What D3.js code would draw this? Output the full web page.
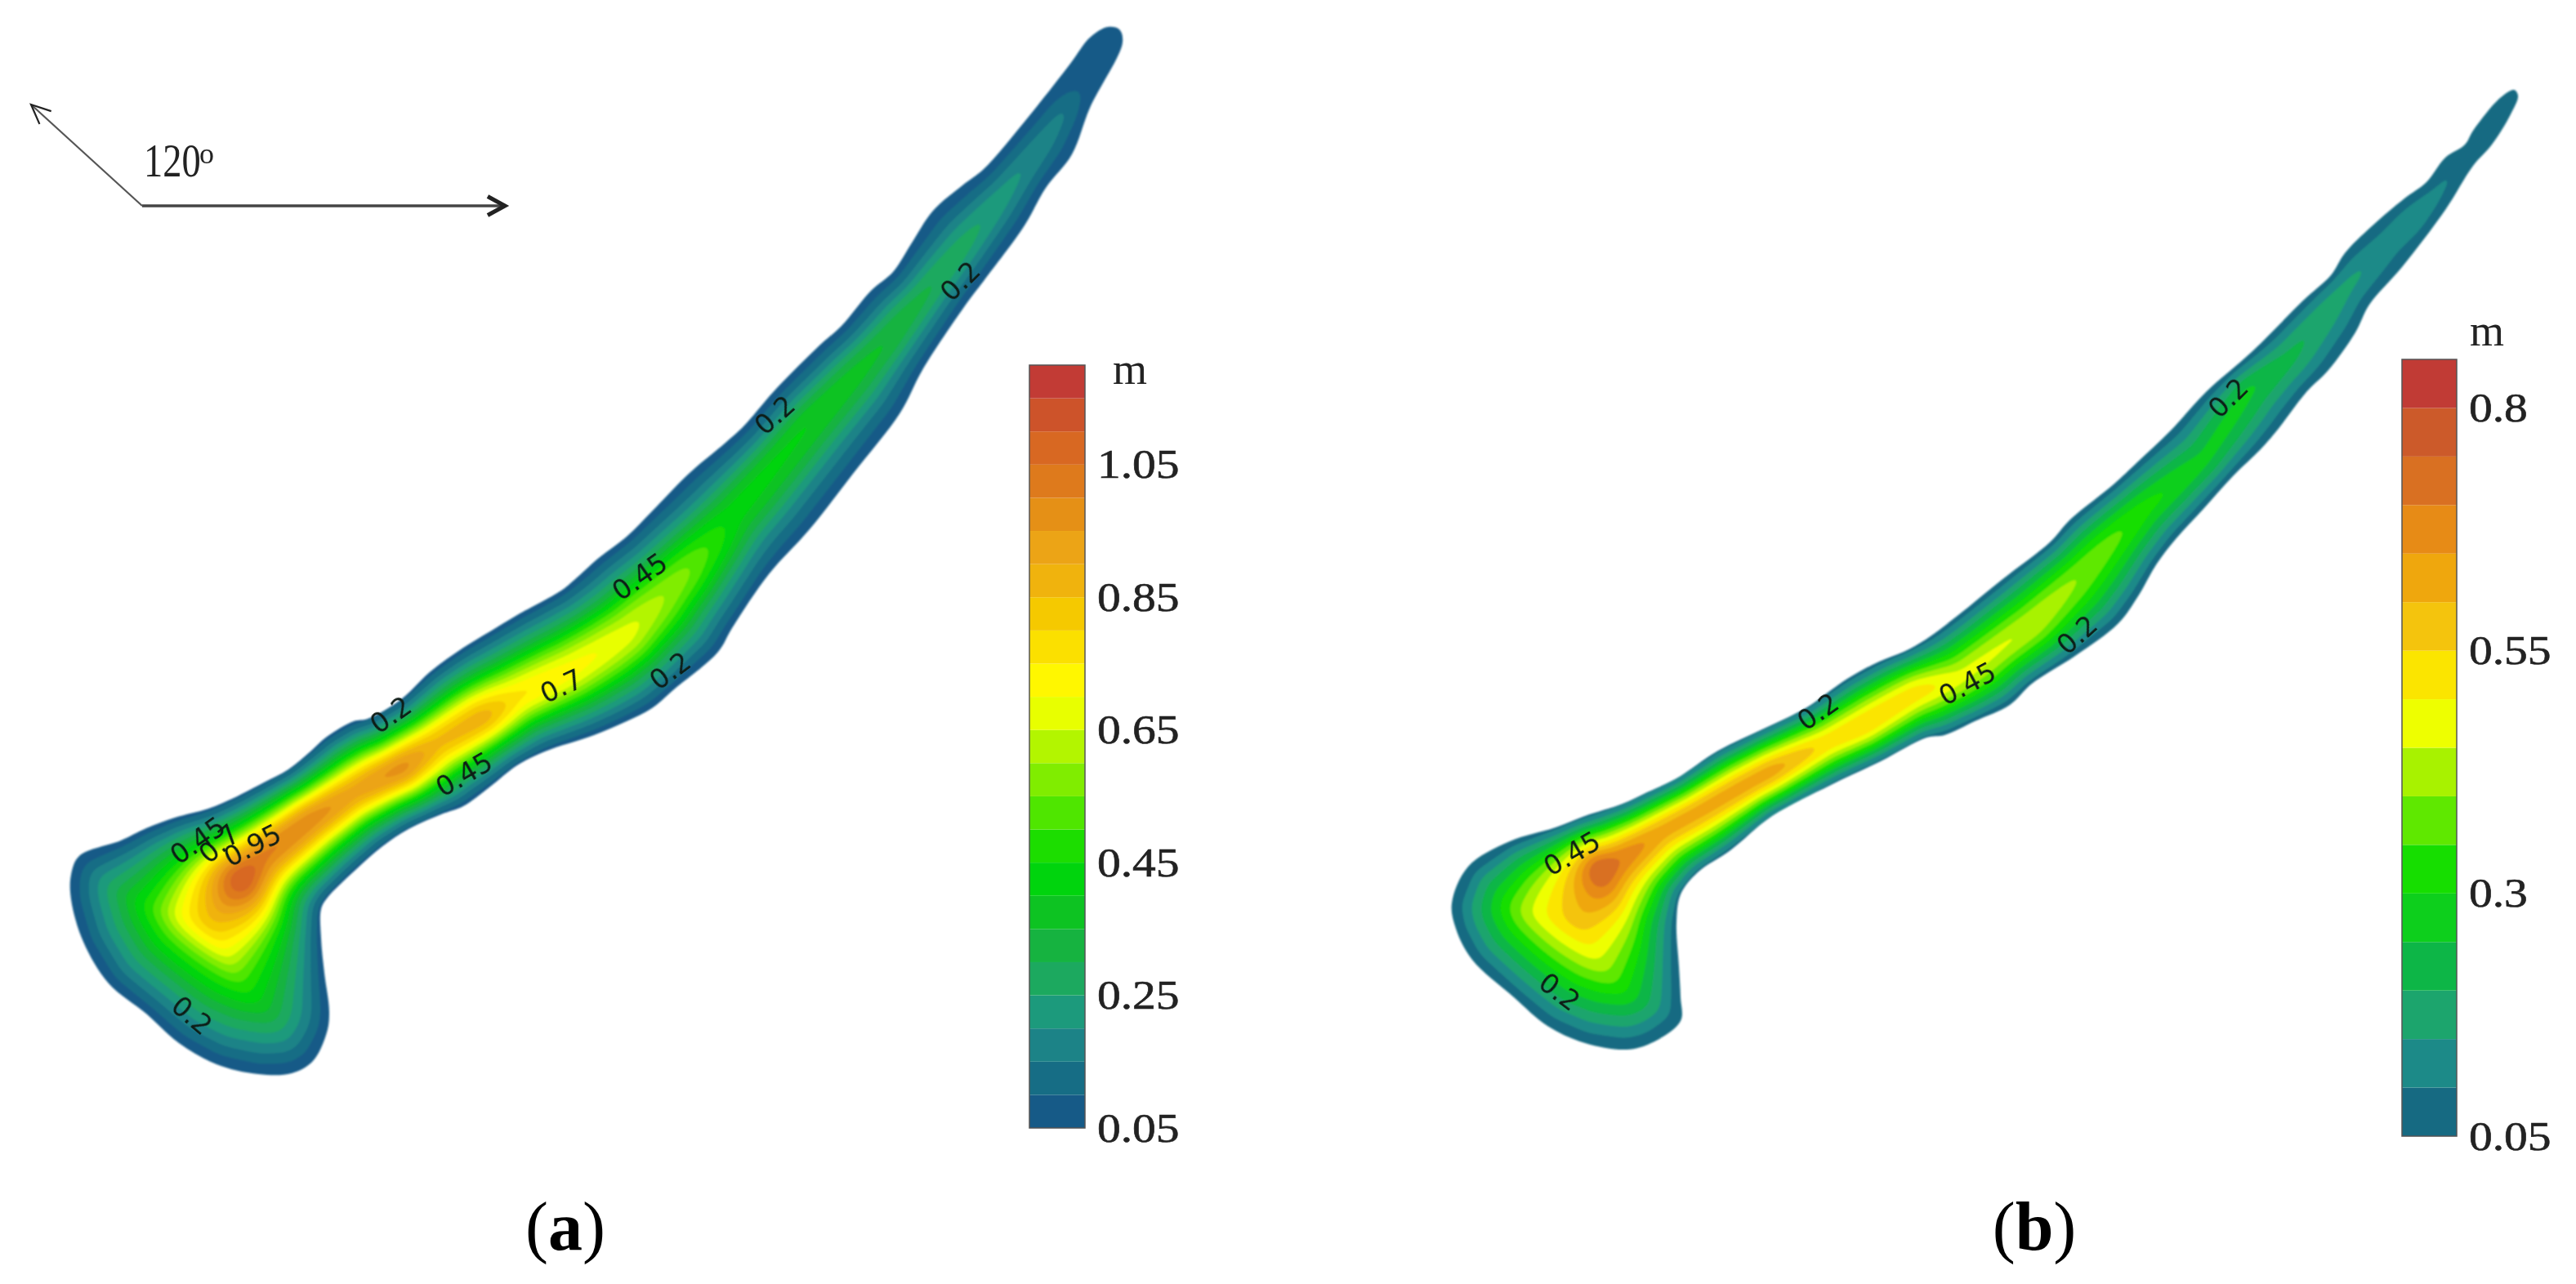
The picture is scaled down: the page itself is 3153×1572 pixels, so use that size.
<!DOCTYPE html>
<html>
<head>
<meta charset="utf-8">
<script src="https://cdn.jsdelivr.net/npm/d3@7"></script>
<style>
html,body{margin:0;padding:0;background:#fff;}
svg{display:block;}
</style>
</head>
<body>
<svg id="chart"></svg>
<script>
// map coordinates are the traced position in the figure, depth in metres

var levelsA = [0.05,0.1,0.15,0.2,0.25,0.3,0.35,0.4,0.45,0.5,0.55,0.6,0.65,0.7,0.75,0.8,0.85,0.9,0.95,1.0,1.05,1.1,1.15,1.2];
var coloursA = ["#155a87","#196d85","#1d8387","#1f9a7c","#1aa95e","#12b340","#0bc324","#04d40d","#1fdd00","#50e600","#80ed00","#b3f500","#e8ff00","#fff700","#fbe003","#f5c905","#f0b30c","#eca412","#e59018","#de7a1e","#d86723","#cd5229","#c23b35"];
var ticksA = [0.05,0.25,0.45,0.65,0.85,1.05];

var levelsB = [0.05,0.1,0.15,0.2,0.25,0.3,0.35,0.4,0.45,0.5,0.55,0.6,0.65,0.7,0.75,0.8,0.85];
var coloursB = ["#186a82","#1e8a88","#1ca56d","#10b646","#08cf1b","#12de00","#5ee800","#a8f200","#eeff00","#fbe500","#f4c40a","#efa70e","#e78b14","#d96f20","#cc5a29","#c13b36"];
var ticksB = [0.05,0.3,0.55,0.8];

// bank line of the flow, traced clockwise from the left corner of the fan
var bankA = [[97,1048],[148,1029],[179,1014],[214,1001],[255,990],[286,977],[300,970],[323,958],[353,942],[380,920],[400,902],[433,883],[450,880],[490,857],[527,822],[567,793],[600,773],[633,753],[687,723],[703,710],[733,683],[767,657],[798,626],[843,580],[888,542],[910,522],[950,476],[1004,422],[1030,399],[1066,356],[1093,333],[1115,299],[1142,258],[1178,227],[1204,207],[1254,149],[1310,78],[1334,46],[1356,33],[1370,36],[1374,52],[1334,132],[1312,189],[1280,230],[1254,276],[1204,344],[1182,373],[1129,453],[1102,505],[1044,580],[990,649],[941,703],[896,769],[879,798],[825,844],[798,867],[767,883],[727,900],[667,920],[633,937],[600,963],[567,987],[540,997],[500,1015],[467,1037],[433,1067],[400,1100],[393,1113],[393,1149],[397,1191],[403,1239],[400,1264],[383,1299],[357,1314],[316,1315],[265,1303],[219,1277],[179,1241],[133,1204],[102,1153],[87,1101],[87,1071]];

// deepest line along the flow: x, y, depth
var spineA = [[296,1076,1.15],[320,1050,1.05],[380,1003,1.03],[433,970,0.96],[493,940,1.02],[533,910,0.9],[593,878,0.92],[633,853,0.79],[700,820,0.75],[767,777,0.7],[807,735,0.63],[840,700,0.58],[870,666,0.51],[896,631,0.44],[990,517,0.42],[1084,419,0.37],[1178,304,0.29],[1249,212,0.22],[1303,138,0.17],[1325,109,0.1],[1343,57,0.06]];

var bankB = [[1797,1061],[1848,1030],[1904,1013],[1940,999],[1986,984],[2016,970],[2052,953],[2103,919],[2159,892],[2210,867],[2261,831],[2300,810],[2330,798],[2357,783],[2397,753],[2450,710],[2510,663],[2533,637],[2587,593],[2617,565],[2657,527],[2700,480],[2757,430],[2820,367],[2853,337],[2870,310],[2903,277],[2943,243],[2970,223],[2993,193],[3017,177],[3027,160],[3060,120],[3077,110],[3082,117],[3073,140],[3050,177],[3027,203],[2993,257],[2940,327],[2900,373],[2883,407],[2850,453],[2823,480],[2787,527],[2767,550],[2733,583],[2697,623],[2663,660],[2640,690],[2617,730],[2593,763],[2540,803],[2487,837],[2460,863],[2417,883],[2380,900],[2358,903],[2302,932],[2241,961],[2169,999],[2118,1041],[2078,1068],[2057,1095],[2052,1130],[2055,1183],[2057,1221],[2057,1250],[2021,1277],[1991,1285],[1940,1277],[1894,1256],[1853,1221],[1802,1175],[1782,1137],[1777,1106]];

var spineB = [[1960,1064,0.8],[1981,1053,0.73],[2032,1018,0.66],[2169,944,0.67],[2236,909,0.57],[2282,888,0.59],[2347,847,0.56],[2400,830,0.49],[2487,765,0.47],[2530,720,0.43],[2590,657,0.38],[2623,623,0.34],[2700,563,0.28],[2750,477,0.28],[2800,440,0.23],[2870,350,0.18],[2923,297,0.14],[2952,270,0.16],[2980,240,0.13],[3007,207,0.11],[3030,190,0.09],[3070,130,0.06]];

// share of the depth reached at a given share of the way from bank to spine
var profileAt = [0,0.25,0.45,0.6,0.8,1];
var profileA = [0,0.22,0.42,0.64,0.88,1];
var profileB = [0,0.28,0.52,0.68,0.88,1];

// isoline labels: text, x, y, angle
var isoLabelsA = [["0.2",235,1243,40],["0.45",242,1029,-35],["0.7",268,1033,-40],["0.95",309,1035,-27],["0.45",568,948,-30],["0.2",478,875,-35],["0.7",687,840,-25],["0.45",783,706,-35],["0.2",820,821,-37],["0.2",948,508,-42],["0.2",1175,344,-45]];
var isoLabelsB = [["0.45",1924,1045,-30],["0.2",1909,1214,37],["0.2",2225,871,-35],["0.45",2408,837,-28],["0.2",2542,777,-42],["0.2",2727,487,-45]];

// wind arrows
var arrowBase = [174,252];
var arrowTips = [[618,252],[38,128]];
var arrowText = "120";

var width = 3153, height = 1572;
var xScale = d3.scaleLinear().domain([0,3153]).range([0,width]);
var yScale = d3.scaleLinear().domain([0,1572]).range([0,height]);

var svg = d3.select("#chart").attr("width",width).attr("height",height);
var defs = svg.append("defs");
defs.append("filter").attr("id","soft").append("feGaussianBlur").attr("stdDeviation",1.1);
defs.append("filter").attr("id","softer").append("feGaussianBlur").attr("stdDeviation",0.7);

var segDist = function(px,py,a,b)
{
    var dx = b[0]-a[0], dy = b[1]-a[1];
    var t = ((px-a[0])*dx+(py-a[1])*dy)/(dx*dx+dy*dy);
    t = Math.max(0,Math.min(1,t));
    var qx = a[0]+t*dx, qy = a[1]+t*dy;
    return {d:Math.hypot(px-qx,py-qy),t:t};
}

// depth on a grid: falls from the spine depth to the shallowest level at the bank
var depthGrid = function(bank,spine,profile,step,edge)
{
    var shape = d3.scaleLinear().domain(profileAt).range(profile);
    var x0 = d3.min(bank,function(d){return d[0];})-step*2;
    var y0 = d3.min(bank,function(d){return d[1];})-step*2;
    var n = Math.ceil((d3.max(bank,function(d){return d[0];})-x0)/step)+2;
    var m = Math.ceil((d3.max(bank,function(d){return d[1];})-y0)/step)+2;
    var values = new Float64Array(n*m).fill(edge);
    for(var j=0;j<m;j++)
    {
        for(var i=0;i<n;i++)
        {
            var px = x0+(i+0.5)*step, py = y0+(j+0.5)*step;
            if(!d3.polygonContains(bank,[px,py])) continue;
            var db = Infinity;
            for(var k=0;k<bank.length;k++)
            {
                var r = segDist(px,py,bank[k],bank[(k+1)%bank.length]);
                if(r.d<db) db = r.d;
            }
            var ds = Infinity, peak = edge;
            for(var s=0;s<spine.length-1;s++)
            {
                var q = segDist(px,py,spine[s],spine[s+1]);
                if(q.d<ds)
                {
                    ds = q.d;
                    peak = spine[s][2]+q.t*(spine[s+1][2]-spine[s][2]);
                }
            }
            values[i+j*n] = edge+(peak-edge)*shape(db/(db+ds));
        }
    }
    d3.blur2({data:values,width:n,height:m},2);
    return {values:values,n:n,m:m,x0:x0,y0:y0,step:step};
}

var drawMap = function(bank,spine,profile,levels,colours,labels)
{
    var g = svg.append("g");
    var map = g.append("g").attr("filter","url(#soft)");

    var colour = d3.scaleThreshold().domain(levels.slice(1)).range(colours);

    var outline = d3.line()
        .x(function(d){return xScale(d[0]);})
        .y(function(d){return yScale(d[1]);})
        .curve(d3.curveCatmullRomClosed);
    map.append("path").attr("d",outline(bank)).attr("fill",colours[0]);

    var grid = depthGrid(bank,spine,profile,3,levels[0]);
    var contours = d3.contours().size([grid.n,grid.m]).smooth(true)
        .thresholds(levels.slice(1,-1))(grid.values);

    var project = d3.geoTransform({point:function(x,y)
    {
        this.stream.point(xScale(grid.x0+x*grid.step),yScale(grid.y0+y*grid.step));
    }});
    var path = d3.geoPath(project);

    map.selectAll("path.band")
        .data(contours)
        .enter()
        .append("path")
        .classed("band",true)
        .attr("d",path)
        .attr("fill",function(d){return colour(d.value);});

    g.selectAll("text")
        .data(labels)
        .enter()
        .append("text")
        .attr("transform",function(d)
        {
            return "translate("+xScale(d[1])+","+yScale(d[2])+") rotate("+d[3]+")";
        })
        .attr("text-anchor","middle")
        .attr("dy","0.36em")
        .attr("font-family","DejaVu Sans")
        .attr("font-size",33)
        .attr("fill","#0c1a14")
        .attr("filter","url(#softer)")
        .text(function(d){return d[0];});
}

var drawBar = function(levels,colours,ticks,left,right,top,bottom,unitX,unitY)
{
    var g = svg.append("g").attr("filter","url(#softer)");
    var depth = d3.scaleLinear()
        .domain([levels[0],levels[levels.length-1]])
        .range([bottom,top]);

    g.selectAll("rect")
        .data(colours)
        .enter()
        .append("rect")
        .attr("x",left)
        .attr("y",function(d,i){return depth(levels[i+1]);})
        .attr("width",right-left)
        .attr("height",function(d,i){return depth(levels[i])-depth(levels[i+1]);})
        .attr("fill",function(d){return d;});

    g.append("rect")
        .attr("x",left).attr("y",top)
        .attr("width",right-left).attr("height",bottom-top)
        .attr("fill","none")
        .attr("stroke","#555")
        .attr("stroke-width",1.5);

    var axis = d3.axisRight(depth)
        .tickValues(ticks)
        .tickSize(0)
        .tickPadding(13)
        .tickFormat(function(d){return String(d);});

    var ax = g.append("g")
        .attr("transform","translate("+right+",0)")
        .call(axis);
    ax.select(".domain").remove();
    ax.selectAll("text")
        .attr("font-family","Liberation Serif")
        .attr("font-size",50)
        .attr("fill","#222")
        .attr("stroke","#222")
        .attr("stroke-width",0.6)
        .attr("transform","scale(1.15,1)");

    g.append("text")
        .attr("x",unitX).attr("y",unitY)
        .attr("font-family","Liberation Serif")
        .attr("font-size",54)
        .attr("fill","#222")
        .text("m");
}

var drawArrows = function()
{
    var g = svg.append("g").attr("filter","url(#softer)");
    var seg = d3.line();
    var base = [xScale(arrowBase[0]),yScale(arrowBase[1])];

    arrowTips.forEach(function(tip,i)
    {
        var end = [xScale(tip[0]),yScale(tip[1])];
        var a = Math.atan2(end[1]-base[1],end[0]-base[0]);
        var len = i==0 ? 24 : 26;
        var spread = i==0 ? 0.5 : 0.42;
        g.append("path")
            .attr("d",seg([base,end]))
            .attr("stroke",i==0 ? "#444" : "#555")
            .attr("stroke-width",i==0 ? 3.5 : 2.2)
            .attr("fill","none");
        g.append("path")
            .attr("d",seg([
                [end[0]-len*Math.cos(a-spread),end[1]-len*Math.sin(a-spread)],
                end,
                [end[0]-len*Math.cos(a+spread),end[1]-len*Math.sin(a+spread)]
            ]))
            .attr("stroke","#222")
            .attr("stroke-width",i==0 ? 5 : 2.2)
            .attr("fill","none");
    });

    g.append("text")
        .attr("transform","translate(176,216) scale(0.8,1)")
        .attr("font-family","Liberation Serif")
        .attr("font-size",58)
        .attr("fill","#222")
        .text(arrowText);
    g.append("text")
        .attr("x",244).attr("y",200)
        .attr("font-family","Liberation Serif")
        .attr("font-size",36)
        .attr("fill","#222")
        .text("o");
}

var drawCaption = function(letter,cx)
{
    var t = svg.append("text")
        .attr("x",cx).attr("y",1530)
        .attr("text-anchor","middle")
        .attr("font-family","Liberation Serif")
        .attr("font-size",84)
        .attr("fill","#000");
    t.append("tspan").text("(");
    t.append("tspan").attr("font-weight","bold").text(letter);
    t.append("tspan").text(")");
}

drawMap(bankA,spineA,profileA,levelsA,coloursA,isoLabelsA);
drawMap(bankB,spineB,profileB,levelsB,coloursB,isoLabelsB);
drawBar(levelsA,coloursA,ticksA,1260,1328,447,1381,1362,470);
drawBar(levelsB,coloursB,ticksB,2940,3007,440,1391,3023,423);
drawArrows();
drawCaption("a",692);
drawCaption("b",2490);
</script>
</body>
</html>
